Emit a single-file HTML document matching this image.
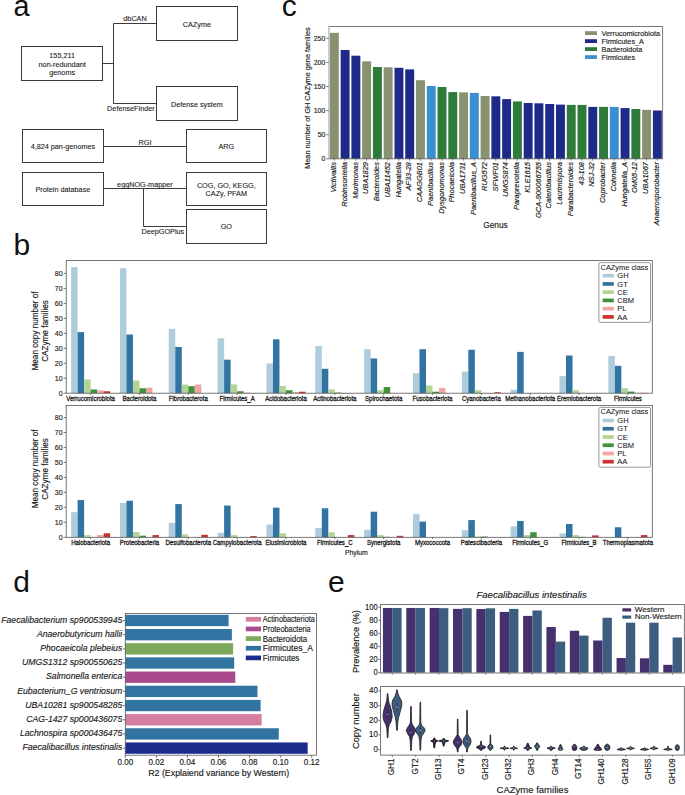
<!DOCTYPE html>
<html><head><meta charset="utf-8"><style>
html,body{margin:0;padding:0;background:#fff;}
svg{display:block;}
text{font-family:"Liberation Sans", sans-serif;stroke:#1a1a1a;stroke-width:0.15px;}
</style></head><body>
<svg width="685" height="795" viewBox="0 0 685 795" fill="#1a1a1a">
<rect x="0" y="0" width="685" height="795" fill="#fff"/>
<text x="13.40" y="15.80" font-size="28.8" style="stroke-width:0px" fill="#111">a</text>
<text x="13.50" y="254.70" font-size="30" style="stroke-width:0px" fill="#111">b</text>
<text x="281.70" y="16.30" font-size="30" style="stroke-width:0px" fill="#111">c</text>
<text x="13.30" y="592.10" font-size="30" style="stroke-width:0px" fill="#111">d</text>
<text x="328.00" y="592.20" font-size="30" style="stroke-width:0px" fill="#111">e</text>
<rect x="21.50" y="46.50" width="81.00" height="34.00" fill="white" stroke="#3a3a3a" stroke-width="1.0"/>
<rect x="156.50" y="6.50" width="81.00" height="34.00" fill="white" stroke="#3a3a3a" stroke-width="1.0"/>
<rect x="156.50" y="86.50" width="81.00" height="34.00" fill="white" stroke="#3a3a3a" stroke-width="1.0"/>
<rect x="22.50" y="129.50" width="81.00" height="33.00" fill="white" stroke="#3a3a3a" stroke-width="1.0"/>
<rect x="186.50" y="129.50" width="80.00" height="33.00" fill="white" stroke="#3a3a3a" stroke-width="1.0"/>
<rect x="22.50" y="172.50" width="81.00" height="33.00" fill="white" stroke="#3a3a3a" stroke-width="1.0"/>
<rect x="186.50" y="172.50" width="80.00" height="33.00" fill="white" stroke="#3a3a3a" stroke-width="1.0"/>
<rect x="186.50" y="209.50" width="80.00" height="34.00" fill="white" stroke="#3a3a3a" stroke-width="1.0"/>
<polyline points="102.50,63.50 113.50,63.50" fill="none" stroke="#3a3a3a" stroke-width="1.0"/>
<polyline points="156.50,23.50 113.50,23.50 113.50,103.50 156.50,103.50" fill="none" stroke="#3a3a3a" stroke-width="1.0"/>
<polyline points="103.50,146.50 186.50,146.50" fill="none" stroke="#3a3a3a" stroke-width="1.0"/>
<polyline points="103.50,188.50 186.50,188.50" fill="none" stroke="#3a3a3a" stroke-width="1.0"/>
<polyline points="143.50,188.50 143.50,226.50 186.50,226.50" fill="none" stroke="#3a3a3a" stroke-width="1.0"/>
<text x="62.15" y="58.00" font-size="7.25" style="stroke-width:0.1px" text-anchor="middle">155,211</text>
<text x="62.15" y="66.70" font-size="7.25" style="stroke-width:0.1px" text-anchor="middle">non-redundant</text>
<text x="62.15" y="75.30" font-size="7.25" style="stroke-width:0.1px" text-anchor="middle">genoms</text>
<text x="196.90" y="26.50" font-size="7.25" style="stroke-width:0.1px" text-anchor="middle">CAZyme</text>
<text x="196.90" y="107.00" font-size="7.25" style="stroke-width:0.1px" text-anchor="middle">Defense system</text>
<text x="62.90" y="149.30" font-size="7.25" style="stroke-width:0.1px" text-anchor="middle">4,824 pan-genomes</text>
<text x="226.30" y="149.30" font-size="7.25" style="stroke-width:0.1px" text-anchor="middle">ARG</text>
<text x="62.90" y="191.80" font-size="7.25" style="stroke-width:0.1px" text-anchor="middle">Protein database</text>
<text x="226.30" y="188.10" font-size="7.25" style="stroke-width:0.1px" text-anchor="middle">COG, GO, KEGG,</text>
<text x="226.30" y="196.40" font-size="7.25" style="stroke-width:0.1px" text-anchor="middle">CAZy, PFAM</text>
<text x="226.30" y="229.10" font-size="7.25" style="stroke-width:0.1px" text-anchor="middle">GO</text>
<text x="135.00" y="21.30" font-size="7.25" style="stroke-width:0.1px" text-anchor="middle">dbCAN</text>
<text x="130.90" y="111.00" font-size="7.25" style="stroke-width:0.1px" text-anchor="middle">DefenseFinder</text>
<text x="145.00" y="144.50" font-size="7.25" style="stroke-width:0.1px" text-anchor="middle">RGI</text>
<text x="144.90" y="186.60" font-size="7.25" style="stroke-width:0.1px" text-anchor="middle">eggNOG-mapper</text>
<text x="162.80" y="234.00" font-size="7.25" style="stroke-width:0.1px" text-anchor="middle">DeepGOPlus</text>
<rect x="329.87" y="32.80" width="8.94" height="126.00" fill="#889170"/>
<rect x="340.63" y="50.00" width="8.94" height="108.80" fill="#1e2a87"/>
<rect x="351.40" y="55.70" width="8.94" height="103.10" fill="#1e2a87"/>
<rect x="362.17" y="61.30" width="8.94" height="97.50" fill="#889170"/>
<rect x="372.94" y="67.00" width="8.94" height="91.80" fill="#2e7b3c"/>
<rect x="383.70" y="67.30" width="8.94" height="91.50" fill="#889170"/>
<rect x="394.47" y="67.80" width="8.94" height="91.00" fill="#1e2a87"/>
<rect x="405.24" y="69.40" width="8.94" height="89.40" fill="#1e2a87"/>
<rect x="416.01" y="80.20" width="8.94" height="78.60" fill="#889170"/>
<rect x="426.77" y="86.00" width="8.94" height="72.80" fill="#3a8fd0"/>
<rect x="437.54" y="87.00" width="8.94" height="71.80" fill="#2e7b3c"/>
<rect x="448.31" y="92.10" width="8.94" height="66.70" fill="#2e7b3c"/>
<rect x="459.08" y="92.40" width="8.94" height="66.40" fill="#889170"/>
<rect x="469.85" y="92.90" width="8.94" height="65.90" fill="#3a8fd0"/>
<rect x="480.61" y="96.00" width="8.94" height="62.80" fill="#889170"/>
<rect x="491.38" y="96.30" width="8.94" height="62.50" fill="#1e2a87"/>
<rect x="502.15" y="99.10" width="8.94" height="59.70" fill="#1e2a87"/>
<rect x="512.92" y="101.40" width="8.94" height="57.40" fill="#2e7b3c"/>
<rect x="523.68" y="103.00" width="8.94" height="55.80" fill="#1e2a87"/>
<rect x="534.45" y="103.30" width="8.94" height="55.50" fill="#1e2a87"/>
<rect x="545.22" y="104.00" width="8.94" height="54.80" fill="#1e2a87"/>
<rect x="555.99" y="104.60" width="8.94" height="54.20" fill="#1e2a87"/>
<rect x="566.76" y="104.90" width="8.94" height="53.90" fill="#2e7b3c"/>
<rect x="577.52" y="104.90" width="8.94" height="53.90" fill="#2e7b3c"/>
<rect x="588.29" y="106.90" width="8.94" height="51.90" fill="#1e2a87"/>
<rect x="599.06" y="106.90" width="8.94" height="51.90" fill="#2e7b3c"/>
<rect x="609.83" y="106.90" width="8.94" height="51.90" fill="#3a8fd0"/>
<rect x="620.59" y="108.10" width="8.94" height="50.70" fill="#1e2a87"/>
<rect x="631.36" y="109.00" width="8.94" height="49.80" fill="#2e7b3c"/>
<rect x="642.13" y="109.90" width="8.94" height="48.90" fill="#889170"/>
<rect x="652.90" y="110.50" width="8.94" height="48.30" fill="#1e2a87"/>
<polyline points="328.80,26.50 662.60,26.50 662.60,158.80 328.80,158.80" fill="none" stroke="#555555" stroke-width="0.8"/>
<line x1="329.00" y1="26.10" x2="329.00" y2="158.80" stroke="#b8b8b8" stroke-width="1.4"/>
<line x1="326.20" y1="158.80" x2="328.80" y2="158.80" stroke="#555555" stroke-width="0.8"/>
<text x="325.20" y="161.25" font-size="6.8" text-anchor="end">0</text>
<line x1="326.20" y1="134.70" x2="328.80" y2="134.70" stroke="#555555" stroke-width="0.8"/>
<text x="325.20" y="137.15" font-size="6.8" text-anchor="end">50</text>
<line x1="326.20" y1="110.60" x2="328.80" y2="110.60" stroke="#555555" stroke-width="0.8"/>
<text x="325.20" y="113.05" font-size="6.8" text-anchor="end">100</text>
<line x1="326.20" y1="86.50" x2="328.80" y2="86.50" stroke="#555555" stroke-width="0.8"/>
<text x="325.20" y="88.95" font-size="6.8" text-anchor="end">150</text>
<line x1="326.20" y1="62.40" x2="328.80" y2="62.40" stroke="#555555" stroke-width="0.8"/>
<text x="325.20" y="64.85" font-size="6.8" text-anchor="end">200</text>
<line x1="326.20" y1="38.30" x2="328.80" y2="38.30" stroke="#555555" stroke-width="0.8"/>
<text x="325.20" y="40.75" font-size="6.8" text-anchor="end">250</text>
<line x1="334.18" y1="158.80" x2="334.18" y2="160.60" stroke="#555555" stroke-width="0.8"/>
<text x="335.98" y="162.00" font-size="6.9" text-anchor="end" font-style="italic" transform="rotate(-90 335.98 162.00)" textLength="30.50" lengthAdjust="spacingAndGlyphs">Victivallis</text>
<line x1="344.95" y1="158.80" x2="344.95" y2="160.60" stroke="#555555" stroke-width="0.8"/>
<text x="346.75" y="162.00" font-size="6.9" text-anchor="end" font-style="italic" transform="rotate(-90 346.75 162.00)" textLength="44.73" lengthAdjust="spacingAndGlyphs">Robinsoniella</text>
<line x1="355.72" y1="158.80" x2="355.72" y2="160.60" stroke="#555555" stroke-width="0.8"/>
<text x="357.52" y="162.00" font-size="6.9" text-anchor="end" font-style="italic" transform="rotate(-90 357.52 162.00)" textLength="36.85" lengthAdjust="spacingAndGlyphs">Murimonas</text>
<line x1="366.49" y1="158.80" x2="366.49" y2="160.60" stroke="#555555" stroke-width="0.8"/>
<text x="368.29" y="162.00" font-size="6.9" text-anchor="end" font-style="italic" transform="rotate(-90 368.29 162.00)" textLength="31.89" lengthAdjust="spacingAndGlyphs">UBA1829</text>
<line x1="377.25" y1="158.80" x2="377.25" y2="160.60" stroke="#555555" stroke-width="0.8"/>
<text x="379.05" y="162.00" font-size="6.9" text-anchor="end" font-style="italic" transform="rotate(-90 379.05 162.00)" textLength="39.34" lengthAdjust="spacingAndGlyphs">Bacteroides</text>
<line x1="388.02" y1="158.80" x2="388.02" y2="160.60" stroke="#555555" stroke-width="0.8"/>
<text x="389.82" y="162.00" font-size="6.9" text-anchor="end" font-style="italic" transform="rotate(-90 389.82 162.00)" textLength="35.48" lengthAdjust="spacingAndGlyphs">UBA11452</text>
<line x1="398.79" y1="158.80" x2="398.79" y2="160.60" stroke="#555555" stroke-width="0.8"/>
<text x="400.59" y="162.00" font-size="6.9" text-anchor="end" font-style="italic" transform="rotate(-90 400.59 162.00)" textLength="35.62" lengthAdjust="spacingAndGlyphs">Hungatella</text>
<line x1="409.56" y1="158.80" x2="409.56" y2="160.60" stroke="#555555" stroke-width="0.8"/>
<text x="411.36" y="162.00" font-size="6.9" text-anchor="end" font-style="italic" transform="rotate(-90 411.36 162.00)" textLength="28.58" lengthAdjust="spacingAndGlyphs">AF33-28</text>
<line x1="420.33" y1="158.80" x2="420.33" y2="160.60" stroke="#555555" stroke-width="0.8"/>
<text x="422.13" y="162.00" font-size="6.9" text-anchor="end" font-style="italic" transform="rotate(-90 422.13 162.00)" textLength="40.16" lengthAdjust="spacingAndGlyphs">CAAGGB01</text>
<line x1="431.09" y1="158.80" x2="431.09" y2="160.60" stroke="#555555" stroke-width="0.8"/>
<text x="432.89" y="162.00" font-size="6.9" text-anchor="end" font-style="italic" transform="rotate(-90 432.89 162.00)" textLength="43.90" lengthAdjust="spacingAndGlyphs">Paenibacillus</text>
<line x1="441.86" y1="158.80" x2="441.86" y2="160.60" stroke="#555555" stroke-width="0.8"/>
<text x="443.66" y="162.00" font-size="6.9" text-anchor="end" font-style="italic" transform="rotate(-90 443.66 162.00)" textLength="51.77" lengthAdjust="spacingAndGlyphs">Dysgonomonas</text>
<line x1="452.63" y1="158.80" x2="452.63" y2="160.60" stroke="#555555" stroke-width="0.8"/>
<text x="454.43" y="162.00" font-size="6.9" text-anchor="end" font-style="italic" transform="rotate(-90 454.43 162.00)" textLength="40.59" lengthAdjust="spacingAndGlyphs">Phocaeicola</text>
<line x1="463.40" y1="158.80" x2="463.40" y2="160.60" stroke="#555555" stroke-width="0.8"/>
<text x="465.20" y="162.00" font-size="6.9" text-anchor="end" font-style="italic" transform="rotate(-90 465.20 162.00)" textLength="31.89" lengthAdjust="spacingAndGlyphs">UBA1731</text>
<line x1="474.16" y1="158.80" x2="474.16" y2="160.60" stroke="#555555" stroke-width="0.8"/>
<text x="475.96" y="162.00" font-size="6.9" text-anchor="end" font-style="italic" transform="rotate(-90 475.96 162.00)" textLength="53.01" lengthAdjust="spacingAndGlyphs">Paenibacillus_A</text>
<line x1="484.93" y1="158.80" x2="484.93" y2="160.60" stroke="#555555" stroke-width="0.8"/>
<text x="486.73" y="162.00" font-size="6.9" text-anchor="end" font-style="italic" transform="rotate(-90 486.73 162.00)" textLength="28.99" lengthAdjust="spacingAndGlyphs">RUG572</text>
<line x1="495.70" y1="158.80" x2="495.70" y2="160.60" stroke="#555555" stroke-width="0.8"/>
<text x="497.50" y="162.00" font-size="6.9" text-anchor="end" font-style="italic" transform="rotate(-90 497.50 162.00)" textLength="29.39" lengthAdjust="spacingAndGlyphs">SFWF01</text>
<line x1="506.47" y1="158.80" x2="506.47" y2="160.60" stroke="#555555" stroke-width="0.8"/>
<text x="508.27" y="162.00" font-size="6.9" text-anchor="end" font-style="italic" transform="rotate(-90 508.27 162.00)" textLength="34.78" lengthAdjust="spacingAndGlyphs">UMGS874</text>
<line x1="517.24" y1="158.80" x2="517.24" y2="160.60" stroke="#555555" stroke-width="0.8"/>
<text x="519.04" y="162.00" font-size="6.9" text-anchor="end" font-style="italic" transform="rotate(-90 519.04 162.00)" textLength="48.04" lengthAdjust="spacingAndGlyphs">Paraprevotella</text>
<line x1="528.00" y1="158.80" x2="528.00" y2="160.60" stroke="#555555" stroke-width="0.8"/>
<text x="529.80" y="162.00" font-size="6.9" text-anchor="end" font-style="italic" transform="rotate(-90 529.80 162.00)" textLength="30.66" lengthAdjust="spacingAndGlyphs">KLE1615</text>
<line x1="538.77" y1="158.80" x2="538.77" y2="160.60" stroke="#555555" stroke-width="0.8"/>
<text x="540.57" y="162.00" font-size="6.9" text-anchor="end" font-style="italic" transform="rotate(-90 540.57 162.00)" textLength="55.92" lengthAdjust="spacingAndGlyphs">GCA-900066755</text>
<line x1="549.54" y1="158.80" x2="549.54" y2="160.60" stroke="#555555" stroke-width="0.8"/>
<text x="551.34" y="162.00" font-size="6.9" text-anchor="end" font-style="italic" transform="rotate(-90 551.34 162.00)" textLength="46.38" lengthAdjust="spacingAndGlyphs">Catenibacillus</text>
<line x1="560.31" y1="158.80" x2="560.31" y2="160.60" stroke="#555555" stroke-width="0.8"/>
<text x="562.11" y="162.00" font-size="6.9" text-anchor="end" font-style="italic" transform="rotate(-90 562.11 162.00)" textLength="42.65" lengthAdjust="spacingAndGlyphs">Lacrimispora</text>
<line x1="571.07" y1="158.80" x2="571.07" y2="160.60" stroke="#555555" stroke-width="0.8"/>
<text x="572.87" y="162.00" font-size="6.9" text-anchor="end" font-style="italic" transform="rotate(-90 572.87 162.00)" textLength="54.25" lengthAdjust="spacingAndGlyphs">Parabacteroides</text>
<line x1="581.84" y1="158.80" x2="581.84" y2="160.60" stroke="#555555" stroke-width="0.8"/>
<text x="583.64" y="162.00" font-size="6.9" text-anchor="end" font-style="italic" transform="rotate(-90 583.64 162.00)" textLength="23.20" lengthAdjust="spacingAndGlyphs">43-108</text>
<line x1="592.61" y1="158.80" x2="592.61" y2="160.60" stroke="#555555" stroke-width="0.8"/>
<text x="594.41" y="162.00" font-size="6.9" text-anchor="end" font-style="italic" transform="rotate(-90 594.41 162.00)" textLength="24.84" lengthAdjust="spacingAndGlyphs">NSJ-32</text>
<line x1="603.38" y1="158.80" x2="603.38" y2="160.60" stroke="#555555" stroke-width="0.8"/>
<text x="605.18" y="162.00" font-size="6.9" text-anchor="end" font-style="italic" transform="rotate(-90 605.18 162.00)" textLength="41.00" lengthAdjust="spacingAndGlyphs">Coprobacter</text>
<line x1="614.15" y1="158.80" x2="614.15" y2="160.60" stroke="#555555" stroke-width="0.8"/>
<text x="615.95" y="162.00" font-size="6.9" text-anchor="end" font-style="italic" transform="rotate(-90 615.95 162.00)" textLength="29.41" lengthAdjust="spacingAndGlyphs">Cohnella</text>
<line x1="624.91" y1="158.80" x2="624.91" y2="160.60" stroke="#555555" stroke-width="0.8"/>
<text x="626.71" y="162.00" font-size="6.9" text-anchor="end" font-style="italic" transform="rotate(-90 626.71 162.00)" textLength="44.73" lengthAdjust="spacingAndGlyphs">Hungatella_A</text>
<line x1="635.68" y1="158.80" x2="635.68" y2="160.60" stroke="#555555" stroke-width="0.8"/>
<text x="637.48" y="162.00" font-size="6.9" text-anchor="end" font-style="italic" transform="rotate(-90 637.48 162.00)" textLength="31.06" lengthAdjust="spacingAndGlyphs">OM05-12</text>
<line x1="646.45" y1="158.80" x2="646.45" y2="160.60" stroke="#555555" stroke-width="0.8"/>
<text x="648.25" y="162.00" font-size="6.9" text-anchor="end" font-style="italic" transform="rotate(-90 648.25 162.00)" textLength="31.89" lengthAdjust="spacingAndGlyphs">UBA1067</text>
<line x1="657.22" y1="158.80" x2="657.22" y2="160.60" stroke="#555555" stroke-width="0.8"/>
<text x="659.02" y="162.00" font-size="6.9" text-anchor="end" font-style="italic" transform="rotate(-90 659.02 162.00)" textLength="63.37" lengthAdjust="spacingAndGlyphs">Anaerosporobacter</text>
<text x="310.30" y="98.00" font-size="7.3" text-anchor="middle" transform="rotate(-90 310.30 98.00)">Mean number of GH CAZyme gene families</text>
<text x="483.30" y="227.50" font-size="8.6" textLength="24.45" lengthAdjust="spacingAndGlyphs">Genus</text>
<rect x="585.00" y="31.20" width="12.00" height="3.80" fill="#889170"/>
<text x="601.60" y="35.80" font-size="7.6" textLength="58.43" lengthAdjust="spacingAndGlyphs">Verrucomicrobiota</text>
<rect x="585.00" y="39.20" width="12.00" height="3.80" fill="#1e2a87"/>
<text x="601.60" y="43.80" font-size="7.6" textLength="42.30" lengthAdjust="spacingAndGlyphs">Firmicutes_A</text>
<rect x="585.00" y="47.20" width="12.00" height="3.80" fill="#2e7b3c"/>
<text x="601.60" y="51.80" font-size="7.6" textLength="40.71" lengthAdjust="spacingAndGlyphs">Bacteroidota</text>
<rect x="585.00" y="55.20" width="12.00" height="3.80" fill="#3a8fd0"/>
<text x="601.60" y="59.80" font-size="7.6" textLength="33.43" lengthAdjust="spacingAndGlyphs">Firmicutes</text>
<rect x="71.08" y="267.15" width="6.51" height="126.05" fill="#aeccdb"/>
<rect x="77.60" y="332.12" width="6.51" height="61.08" fill="#3274a1"/>
<rect x="84.11" y="379.43" width="6.51" height="13.77" fill="#b3d495"/>
<rect x="90.62" y="389.46" width="6.51" height="3.74" fill="#40923a"/>
<rect x="97.13" y="390.21" width="6.51" height="2.99" fill="#efa6a5"/>
<rect x="103.65" y="391.25" width="6.51" height="1.95" fill="#ca3335"/>
<rect x="119.93" y="268.20" width="6.51" height="125.00" fill="#aeccdb"/>
<rect x="126.44" y="334.52" width="6.51" height="58.68" fill="#3274a1"/>
<rect x="132.95" y="380.48" width="6.51" height="12.72" fill="#b3d495"/>
<rect x="139.46" y="388.26" width="6.51" height="4.94" fill="#40923a"/>
<rect x="145.97" y="387.66" width="6.51" height="5.54" fill="#efa6a5"/>
<rect x="168.77" y="328.83" width="6.51" height="64.37" fill="#aeccdb"/>
<rect x="175.28" y="346.94" width="6.51" height="46.26" fill="#3274a1"/>
<rect x="181.79" y="384.52" width="6.51" height="8.68" fill="#b3d495"/>
<rect x="188.30" y="386.16" width="6.51" height="7.04" fill="#40923a"/>
<rect x="194.82" y="384.52" width="6.51" height="8.68" fill="#efa6a5"/>
<rect x="217.61" y="338.26" width="6.51" height="54.94" fill="#aeccdb"/>
<rect x="224.12" y="359.67" width="6.51" height="33.53" fill="#3274a1"/>
<rect x="230.63" y="384.37" width="6.51" height="8.83" fill="#b3d495"/>
<rect x="237.15" y="391.25" width="6.51" height="1.95" fill="#40923a"/>
<rect x="243.66" y="392.60" width="6.51" height="0.60" fill="#efa6a5"/>
<rect x="250.17" y="393.05" width="6.51" height="0.15" fill="#ca3335"/>
<rect x="266.45" y="363.41" width="6.51" height="29.79" fill="#aeccdb"/>
<rect x="272.96" y="339.31" width="6.51" height="53.89" fill="#3274a1"/>
<rect x="279.48" y="386.01" width="6.51" height="7.19" fill="#b3d495"/>
<rect x="285.99" y="390.21" width="6.51" height="2.99" fill="#40923a"/>
<rect x="292.50" y="392.15" width="6.51" height="1.05" fill="#efa6a5"/>
<rect x="299.01" y="391.70" width="6.51" height="1.50" fill="#ca3335"/>
<rect x="315.29" y="346.04" width="6.51" height="47.16" fill="#aeccdb"/>
<rect x="321.80" y="368.80" width="6.51" height="24.40" fill="#3274a1"/>
<rect x="328.32" y="389.31" width="6.51" height="3.89" fill="#b3d495"/>
<rect x="334.83" y="392.60" width="6.51" height="0.60" fill="#40923a"/>
<rect x="341.34" y="393.05" width="6.51" height="0.15" fill="#efa6a5"/>
<rect x="364.13" y="349.19" width="6.51" height="44.01" fill="#aeccdb"/>
<rect x="370.65" y="358.47" width="6.51" height="34.73" fill="#3274a1"/>
<rect x="377.16" y="390.21" width="6.51" height="2.99" fill="#b3d495"/>
<rect x="383.67" y="387.06" width="6.51" height="6.14" fill="#40923a"/>
<rect x="412.98" y="373.14" width="6.51" height="20.06" fill="#aeccdb"/>
<rect x="419.49" y="349.19" width="6.51" height="44.01" fill="#3274a1"/>
<rect x="426.00" y="385.42" width="6.51" height="7.78" fill="#b3d495"/>
<rect x="432.51" y="391.70" width="6.51" height="1.50" fill="#40923a"/>
<rect x="439.02" y="387.96" width="6.51" height="5.24" fill="#efa6a5"/>
<rect x="461.82" y="371.64" width="6.51" height="21.56" fill="#aeccdb"/>
<rect x="468.33" y="349.79" width="6.51" height="43.41" fill="#3274a1"/>
<rect x="474.84" y="390.21" width="6.51" height="2.99" fill="#b3d495"/>
<rect x="494.38" y="392.30" width="6.51" height="0.90" fill="#ca3335"/>
<rect x="510.66" y="389.76" width="6.51" height="3.44" fill="#aeccdb"/>
<rect x="517.17" y="351.88" width="6.51" height="41.32" fill="#3274a1"/>
<rect x="559.50" y="376.13" width="6.51" height="17.07" fill="#aeccdb"/>
<rect x="566.01" y="355.48" width="6.51" height="37.72" fill="#3274a1"/>
<rect x="572.53" y="390.21" width="6.51" height="2.99" fill="#b3d495"/>
<rect x="608.34" y="355.92" width="6.51" height="37.28" fill="#aeccdb"/>
<rect x="614.85" y="365.80" width="6.51" height="27.40" fill="#3274a1"/>
<rect x="621.37" y="388.26" width="6.51" height="4.94" fill="#b3d495"/>
<rect x="627.88" y="391.55" width="6.51" height="1.65" fill="#40923a"/>
<rect x="634.39" y="392.90" width="6.51" height="0.30" fill="#efa6a5"/>
<rect x="640.90" y="392.90" width="6.51" height="0.30" fill="#ca3335"/>
<rect x="66.20" y="260.60" width="586.10" height="132.60" fill="none" stroke="#555555" stroke-width="0.8"/>
<line x1="63.80" y1="393.20" x2="66.20" y2="393.20" stroke="#555555" stroke-width="0.8"/>
<text x="62.60" y="395.50" font-size="7.9" text-anchor="end" textLength="3.92" lengthAdjust="spacingAndGlyphs">0</text>
<line x1="63.80" y1="378.23" x2="66.20" y2="378.23" stroke="#555555" stroke-width="0.8"/>
<text x="62.60" y="380.53" font-size="7.9" text-anchor="end" textLength="7.84" lengthAdjust="spacingAndGlyphs">10</text>
<line x1="63.80" y1="363.26" x2="66.20" y2="363.26" stroke="#555555" stroke-width="0.8"/>
<text x="62.60" y="365.56" font-size="7.9" text-anchor="end" textLength="7.84" lengthAdjust="spacingAndGlyphs">20</text>
<line x1="63.80" y1="348.29" x2="66.20" y2="348.29" stroke="#555555" stroke-width="0.8"/>
<text x="62.60" y="350.59" font-size="7.9" text-anchor="end" textLength="7.84" lengthAdjust="spacingAndGlyphs">30</text>
<line x1="63.80" y1="333.32" x2="66.20" y2="333.32" stroke="#555555" stroke-width="0.8"/>
<text x="62.60" y="335.62" font-size="7.9" text-anchor="end" textLength="7.84" lengthAdjust="spacingAndGlyphs">40</text>
<line x1="63.80" y1="318.35" x2="66.20" y2="318.35" stroke="#555555" stroke-width="0.8"/>
<text x="62.60" y="320.65" font-size="7.9" text-anchor="end" textLength="7.84" lengthAdjust="spacingAndGlyphs">50</text>
<line x1="63.80" y1="303.38" x2="66.20" y2="303.38" stroke="#555555" stroke-width="0.8"/>
<text x="62.60" y="305.68" font-size="7.9" text-anchor="end" textLength="7.84" lengthAdjust="spacingAndGlyphs">60</text>
<line x1="63.80" y1="288.41" x2="66.20" y2="288.41" stroke="#555555" stroke-width="0.8"/>
<text x="62.60" y="290.71" font-size="7.9" text-anchor="end" textLength="7.84" lengthAdjust="spacingAndGlyphs">70</text>
<line x1="63.80" y1="273.44" x2="66.20" y2="273.44" stroke="#555555" stroke-width="0.8"/>
<text x="62.60" y="275.74" font-size="7.9" text-anchor="end" textLength="7.84" lengthAdjust="spacingAndGlyphs">80</text>
<line x1="90.62" y1="393.20" x2="90.62" y2="395.00" stroke="#555555" stroke-width="0.8"/>
<text x="90.62" y="400.80" font-size="7.0" style="stroke-width:0.3px" text-anchor="middle" textLength="48.68" lengthAdjust="spacingAndGlyphs">Verrucomicrobiota</text>
<line x1="139.46" y1="393.20" x2="139.46" y2="395.00" stroke="#555555" stroke-width="0.8"/>
<text x="139.46" y="400.80" font-size="7.0" style="stroke-width:0.3px" text-anchor="middle" textLength="33.91" lengthAdjust="spacingAndGlyphs">Bacteroidota</text>
<line x1="188.30" y1="393.20" x2="188.30" y2="395.00" stroke="#555555" stroke-width="0.8"/>
<text x="188.30" y="400.80" font-size="7.0" style="stroke-width:0.3px" text-anchor="middle" textLength="38.95" lengthAdjust="spacingAndGlyphs">Fibrobacterota</text>
<line x1="237.15" y1="393.20" x2="237.15" y2="395.00" stroke="#555555" stroke-width="0.8"/>
<text x="237.15" y="400.80" font-size="7.0" style="stroke-width:0.3px" text-anchor="middle" textLength="35.24" lengthAdjust="spacingAndGlyphs">Firmicutes_A</text>
<line x1="285.99" y1="393.20" x2="285.99" y2="395.00" stroke="#555555" stroke-width="0.8"/>
<text x="285.99" y="400.80" font-size="7.0" style="stroke-width:0.3px" text-anchor="middle" textLength="41.64" lengthAdjust="spacingAndGlyphs">Acidobacteriota</text>
<line x1="334.83" y1="393.20" x2="334.83" y2="395.00" stroke="#555555" stroke-width="0.8"/>
<text x="334.83" y="400.80" font-size="7.0" style="stroke-width:0.3px" text-anchor="middle" textLength="43.31" lengthAdjust="spacingAndGlyphs">Actinobacteriota</text>
<line x1="383.67" y1="393.20" x2="383.67" y2="395.00" stroke="#555555" stroke-width="0.8"/>
<text x="383.67" y="400.80" font-size="7.0" style="stroke-width:0.3px" text-anchor="middle" textLength="37.27" lengthAdjust="spacingAndGlyphs">Spirochaetota</text>
<line x1="432.51" y1="393.20" x2="432.51" y2="395.00" stroke="#555555" stroke-width="0.8"/>
<text x="432.51" y="400.80" font-size="7.0" style="stroke-width:0.3px" text-anchor="middle" textLength="39.95" lengthAdjust="spacingAndGlyphs">Fusobacteriota</text>
<line x1="481.35" y1="393.20" x2="481.35" y2="395.00" stroke="#555555" stroke-width="0.8"/>
<text x="481.35" y="400.80" font-size="7.0" style="stroke-width:0.3px" text-anchor="middle" textLength="38.95" lengthAdjust="spacingAndGlyphs">Cyanobacteria</text>
<line x1="530.20" y1="393.20" x2="530.20" y2="395.00" stroke="#555555" stroke-width="0.8"/>
<text x="530.20" y="400.80" font-size="7.0" style="stroke-width:0.3px" text-anchor="middle" textLength="50.03" lengthAdjust="spacingAndGlyphs">Methanobacteriota</text>
<line x1="579.04" y1="393.20" x2="579.04" y2="395.00" stroke="#555555" stroke-width="0.8"/>
<text x="579.04" y="400.80" font-size="7.0" style="stroke-width:0.3px" text-anchor="middle" textLength="44.32" lengthAdjust="spacingAndGlyphs">Eremiobacterota</text>
<line x1="627.88" y1="393.20" x2="627.88" y2="395.00" stroke="#555555" stroke-width="0.8"/>
<text x="627.88" y="400.80" font-size="7.0" style="stroke-width:0.3px" text-anchor="middle" textLength="27.85" lengthAdjust="spacingAndGlyphs">Firmicutes</text>
<rect x="598.9" y="262.60" width="51.60" height="59.80" rx="1.5" fill="white" stroke="#808080" stroke-width="0.8"/>
<text x="624.40" y="269.60" font-size="7.9" style="stroke-width:0.08px" text-anchor="middle" textLength="47.70" lengthAdjust="spacingAndGlyphs">CAZyme class</text>
<rect x="602.60" y="273.85" width="11.20" height="3.70" fill="#aeccdb"/>
<text x="617.30" y="278.45" font-size="7.9" style="stroke-width:0.08px" textLength="11.25" lengthAdjust="spacingAndGlyphs">GH</text>
<rect x="602.60" y="282.09" width="11.20" height="3.70" fill="#3274a1"/>
<text x="617.30" y="286.69" font-size="7.9" style="stroke-width:0.08px" textLength="10.42" lengthAdjust="spacingAndGlyphs">GT</text>
<rect x="602.60" y="290.33" width="11.20" height="3.70" fill="#b3d495"/>
<text x="617.30" y="294.93" font-size="7.9" style="stroke-width:0.08px" textLength="10.42" lengthAdjust="spacingAndGlyphs">CE</text>
<rect x="602.60" y="298.57" width="11.20" height="3.70" fill="#40923a"/>
<text x="617.30" y="303.17" font-size="7.9" style="stroke-width:0.08px" textLength="16.67" lengthAdjust="spacingAndGlyphs">CBM</text>
<rect x="602.60" y="306.81" width="11.20" height="3.70" fill="#efa6a5"/>
<text x="617.30" y="311.41" font-size="7.9" style="stroke-width:0.08px" textLength="9.17" lengthAdjust="spacingAndGlyphs">PL</text>
<rect x="602.60" y="315.05" width="11.20" height="3.70" fill="#ca3335"/>
<text x="617.30" y="319.65" font-size="7.9" style="stroke-width:0.08px" textLength="10.01" lengthAdjust="spacingAndGlyphs">AA</text>
<text x="38.10" y="331.00" font-size="8.5" text-anchor="middle" transform="rotate(-90 38.10 331.00)" textLength="78.92" lengthAdjust="spacingAndGlyphs">Mean copy number of</text>
<text x="47.60" y="331.00" font-size="8.5" text-anchor="middle" transform="rotate(-90 47.60 331.00)" textLength="61.66" lengthAdjust="spacingAndGlyphs">CAZyme families</text>
<rect x="71.08" y="512.15" width="6.51" height="25.15" fill="#aeccdb"/>
<rect x="77.60" y="500.02" width="6.51" height="37.28" fill="#3274a1"/>
<rect x="84.11" y="535.05" width="6.51" height="2.25" fill="#b3d495"/>
<rect x="97.13" y="535.05" width="6.51" height="2.25" fill="#efa6a5"/>
<rect x="103.65" y="533.26" width="6.51" height="4.04" fill="#ca3335"/>
<rect x="119.93" y="503.02" width="6.51" height="34.28" fill="#aeccdb"/>
<rect x="126.44" y="500.77" width="6.51" height="36.53" fill="#3274a1"/>
<rect x="132.95" y="532.06" width="6.51" height="5.24" fill="#b3d495"/>
<rect x="139.46" y="535.65" width="6.51" height="1.65" fill="#40923a"/>
<rect x="152.49" y="535.05" width="6.51" height="2.25" fill="#ca3335"/>
<rect x="168.77" y="522.93" width="6.51" height="14.37" fill="#aeccdb"/>
<rect x="175.28" y="504.07" width="6.51" height="33.23" fill="#3274a1"/>
<rect x="181.79" y="534.31" width="6.51" height="2.99" fill="#b3d495"/>
<rect x="201.33" y="534.76" width="6.51" height="2.54" fill="#ca3335"/>
<rect x="217.61" y="532.81" width="6.51" height="4.49" fill="#aeccdb"/>
<rect x="224.12" y="505.56" width="6.51" height="31.74" fill="#3274a1"/>
<rect x="230.63" y="535.05" width="6.51" height="2.25" fill="#b3d495"/>
<rect x="250.17" y="536.10" width="6.51" height="1.20" fill="#ca3335"/>
<rect x="266.45" y="524.58" width="6.51" height="12.72" fill="#aeccdb"/>
<rect x="272.96" y="507.66" width="6.51" height="29.64" fill="#3274a1"/>
<rect x="279.48" y="533.26" width="6.51" height="4.04" fill="#b3d495"/>
<rect x="315.29" y="528.02" width="6.51" height="9.28" fill="#aeccdb"/>
<rect x="321.80" y="508.26" width="6.51" height="29.04" fill="#3274a1"/>
<rect x="328.32" y="532.36" width="6.51" height="4.94" fill="#b3d495"/>
<rect x="347.85" y="535.05" width="6.51" height="2.25" fill="#ca3335"/>
<rect x="364.13" y="529.81" width="6.51" height="7.49" fill="#aeccdb"/>
<rect x="370.65" y="511.70" width="6.51" height="25.60" fill="#3274a1"/>
<rect x="377.16" y="535.05" width="6.51" height="2.25" fill="#b3d495"/>
<rect x="383.67" y="536.85" width="6.51" height="0.45" fill="#40923a"/>
<rect x="396.70" y="535.80" width="6.51" height="1.50" fill="#ca3335"/>
<rect x="412.98" y="513.95" width="6.51" height="23.35" fill="#aeccdb"/>
<rect x="419.49" y="521.58" width="6.51" height="15.72" fill="#3274a1"/>
<rect x="461.82" y="530.26" width="6.51" height="7.04" fill="#aeccdb"/>
<rect x="468.33" y="520.08" width="6.51" height="17.22" fill="#3274a1"/>
<rect x="474.84" y="536.55" width="6.51" height="0.75" fill="#b3d495"/>
<rect x="481.35" y="536.55" width="6.51" height="0.75" fill="#40923a"/>
<rect x="510.66" y="526.37" width="6.51" height="10.93" fill="#aeccdb"/>
<rect x="517.17" y="520.98" width="6.51" height="16.32" fill="#3274a1"/>
<rect x="523.68" y="535.05" width="6.51" height="2.25" fill="#b3d495"/>
<rect x="530.20" y="532.21" width="6.51" height="5.09" fill="#40923a"/>
<rect x="559.50" y="533.41" width="6.51" height="3.89" fill="#aeccdb"/>
<rect x="566.01" y="523.98" width="6.51" height="13.32" fill="#3274a1"/>
<rect x="572.53" y="535.05" width="6.51" height="2.25" fill="#b3d495"/>
<rect x="579.04" y="536.85" width="6.51" height="0.45" fill="#40923a"/>
<rect x="592.06" y="535.35" width="6.51" height="1.95" fill="#ca3335"/>
<rect x="614.85" y="527.27" width="6.51" height="10.03" fill="#3274a1"/>
<rect x="640.90" y="535.05" width="6.51" height="2.25" fill="#ca3335"/>
<rect x="66.20" y="405.50" width="586.10" height="131.80" fill="none" stroke="#555555" stroke-width="0.8"/>
<line x1="63.80" y1="537.30" x2="66.20" y2="537.30" stroke="#555555" stroke-width="0.8"/>
<text x="62.60" y="539.60" font-size="7.9" text-anchor="end" textLength="3.92" lengthAdjust="spacingAndGlyphs">0</text>
<line x1="63.80" y1="522.33" x2="66.20" y2="522.33" stroke="#555555" stroke-width="0.8"/>
<text x="62.60" y="524.63" font-size="7.9" text-anchor="end" textLength="7.84" lengthAdjust="spacingAndGlyphs">10</text>
<line x1="63.80" y1="507.36" x2="66.20" y2="507.36" stroke="#555555" stroke-width="0.8"/>
<text x="62.60" y="509.66" font-size="7.9" text-anchor="end" textLength="7.84" lengthAdjust="spacingAndGlyphs">20</text>
<line x1="63.80" y1="492.39" x2="66.20" y2="492.39" stroke="#555555" stroke-width="0.8"/>
<text x="62.60" y="494.69" font-size="7.9" text-anchor="end" textLength="7.84" lengthAdjust="spacingAndGlyphs">30</text>
<line x1="63.80" y1="477.42" x2="66.20" y2="477.42" stroke="#555555" stroke-width="0.8"/>
<text x="62.60" y="479.72" font-size="7.9" text-anchor="end" textLength="7.84" lengthAdjust="spacingAndGlyphs">40</text>
<line x1="63.80" y1="462.45" x2="66.20" y2="462.45" stroke="#555555" stroke-width="0.8"/>
<text x="62.60" y="464.75" font-size="7.9" text-anchor="end" textLength="7.84" lengthAdjust="spacingAndGlyphs">50</text>
<line x1="63.80" y1="447.48" x2="66.20" y2="447.48" stroke="#555555" stroke-width="0.8"/>
<text x="62.60" y="449.78" font-size="7.9" text-anchor="end" textLength="7.84" lengthAdjust="spacingAndGlyphs">60</text>
<line x1="63.80" y1="432.51" x2="66.20" y2="432.51" stroke="#555555" stroke-width="0.8"/>
<text x="62.60" y="434.81" font-size="7.9" text-anchor="end" textLength="7.84" lengthAdjust="spacingAndGlyphs">70</text>
<line x1="63.80" y1="417.54" x2="66.20" y2="417.54" stroke="#555555" stroke-width="0.8"/>
<text x="62.60" y="419.84" font-size="7.9" text-anchor="end" textLength="7.84" lengthAdjust="spacingAndGlyphs">80</text>
<line x1="90.62" y1="537.30" x2="90.62" y2="539.10" stroke="#555555" stroke-width="0.8"/>
<text x="90.62" y="544.90" font-size="7.0" style="stroke-width:0.3px" text-anchor="middle" textLength="38.95" lengthAdjust="spacingAndGlyphs">Halobacteriota</text>
<line x1="139.46" y1="537.30" x2="139.46" y2="539.10" stroke="#555555" stroke-width="0.8"/>
<text x="139.46" y="544.90" font-size="7.0" style="stroke-width:0.3px" text-anchor="middle" textLength="39.29" lengthAdjust="spacingAndGlyphs">Proteobacteria</text>
<line x1="188.30" y1="537.30" x2="188.30" y2="539.10" stroke="#555555" stroke-width="0.8"/>
<text x="188.30" y="544.90" font-size="7.0" style="stroke-width:0.3px" text-anchor="middle" textLength="45.66" lengthAdjust="spacingAndGlyphs">Desulfobacterota</text>
<line x1="237.15" y1="537.30" x2="237.15" y2="539.10" stroke="#555555" stroke-width="0.8"/>
<text x="237.15" y="544.90" font-size="7.0" style="stroke-width:0.3px" text-anchor="middle" textLength="49.02" lengthAdjust="spacingAndGlyphs">Campylobacterota</text>
<line x1="285.99" y1="537.30" x2="285.99" y2="539.10" stroke="#555555" stroke-width="0.8"/>
<text x="285.99" y="544.90" font-size="7.0" style="stroke-width:0.3px" text-anchor="middle" textLength="40.95" lengthAdjust="spacingAndGlyphs">Elusimicrobiota</text>
<line x1="334.83" y1="537.30" x2="334.83" y2="539.10" stroke="#555555" stroke-width="0.8"/>
<text x="334.83" y="544.90" font-size="7.0" style="stroke-width:0.3px" text-anchor="middle" textLength="35.57" lengthAdjust="spacingAndGlyphs">Firmicutes_C</text>
<line x1="383.67" y1="537.30" x2="383.67" y2="539.10" stroke="#555555" stroke-width="0.8"/>
<text x="383.67" y="544.90" font-size="7.0" style="stroke-width:0.3px" text-anchor="middle" textLength="33.57" lengthAdjust="spacingAndGlyphs">Synergistota</text>
<line x1="432.51" y1="537.30" x2="432.51" y2="539.10" stroke="#555555" stroke-width="0.8"/>
<text x="432.51" y="544.90" font-size="7.0" style="stroke-width:0.3px" text-anchor="middle" textLength="35.25" lengthAdjust="spacingAndGlyphs">Myxococcota</text>
<line x1="481.35" y1="537.30" x2="481.35" y2="539.10" stroke="#555555" stroke-width="0.8"/>
<text x="481.35" y="544.90" font-size="7.0" style="stroke-width:0.3px" text-anchor="middle" textLength="41.30" lengthAdjust="spacingAndGlyphs">Patescibacteria</text>
<line x1="530.20" y1="537.30" x2="530.20" y2="539.10" stroke="#555555" stroke-width="0.8"/>
<text x="530.20" y="544.90" font-size="7.0" style="stroke-width:0.3px" text-anchor="middle" textLength="35.91" lengthAdjust="spacingAndGlyphs">Firmicutes_G</text>
<line x1="579.04" y1="537.30" x2="579.04" y2="539.10" stroke="#555555" stroke-width="0.8"/>
<text x="579.04" y="544.90" font-size="7.0" style="stroke-width:0.3px" text-anchor="middle" textLength="35.24" lengthAdjust="spacingAndGlyphs">Firmicutes_B</text>
<line x1="627.88" y1="537.30" x2="627.88" y2="539.10" stroke="#555555" stroke-width="0.8"/>
<text x="627.88" y="544.90" font-size="7.0" style="stroke-width:0.3px" text-anchor="middle" textLength="50.36" lengthAdjust="spacingAndGlyphs">Thermoplasmatota</text>
<rect x="598.9" y="407.40" width="51.60" height="59.80" rx="1.5" fill="white" stroke="#808080" stroke-width="0.8"/>
<text x="624.40" y="414.40" font-size="7.9" style="stroke-width:0.08px" text-anchor="middle" textLength="47.70" lengthAdjust="spacingAndGlyphs">CAZyme class</text>
<rect x="602.60" y="418.65" width="11.20" height="3.70" fill="#aeccdb"/>
<text x="617.30" y="423.25" font-size="7.9" style="stroke-width:0.08px" textLength="11.25" lengthAdjust="spacingAndGlyphs">GH</text>
<rect x="602.60" y="426.89" width="11.20" height="3.70" fill="#3274a1"/>
<text x="617.30" y="431.49" font-size="7.9" style="stroke-width:0.08px" textLength="10.42" lengthAdjust="spacingAndGlyphs">GT</text>
<rect x="602.60" y="435.13" width="11.20" height="3.70" fill="#b3d495"/>
<text x="617.30" y="439.73" font-size="7.9" style="stroke-width:0.08px" textLength="10.42" lengthAdjust="spacingAndGlyphs">CE</text>
<rect x="602.60" y="443.37" width="11.20" height="3.70" fill="#40923a"/>
<text x="617.30" y="447.97" font-size="7.9" style="stroke-width:0.08px" textLength="16.67" lengthAdjust="spacingAndGlyphs">CBM</text>
<rect x="602.60" y="451.61" width="11.20" height="3.70" fill="#efa6a5"/>
<text x="617.30" y="456.21" font-size="7.9" style="stroke-width:0.08px" textLength="9.17" lengthAdjust="spacingAndGlyphs">PL</text>
<rect x="602.60" y="459.85" width="11.20" height="3.70" fill="#ca3335"/>
<text x="617.30" y="464.45" font-size="7.9" style="stroke-width:0.08px" textLength="10.01" lengthAdjust="spacingAndGlyphs">AA</text>
<text x="38.10" y="468.90" font-size="8.5" text-anchor="middle" transform="rotate(-90 38.10 468.90)" textLength="78.92" lengthAdjust="spacingAndGlyphs">Mean copy number of</text>
<text x="47.60" y="468.90" font-size="8.5" text-anchor="middle" transform="rotate(-90 47.60 468.90)" textLength="61.66" lengthAdjust="spacingAndGlyphs">CAZyme families</text>
<text x="356.40" y="554.90" font-size="7.0" text-anchor="middle" textLength="22.84" lengthAdjust="spacingAndGlyphs">Phylum</text>
<rect x="125.30" y="614.82" width="103.30" height="11.34" fill="#3274a1"/>
<rect x="125.30" y="629.00" width="106.56" height="11.34" fill="#3274a1"/>
<rect x="125.30" y="643.18" width="107.80" height="11.34" fill="#7ea85b"/>
<rect x="125.30" y="657.36" width="108.89" height="11.34" fill="#3274a1"/>
<rect x="125.30" y="671.54" width="109.98" height="11.34" fill="#a94a8e"/>
<rect x="125.30" y="685.72" width="132.19" height="11.34" fill="#3274a1"/>
<rect x="125.30" y="699.90" width="135.30" height="11.34" fill="#3274a1"/>
<rect x="125.30" y="714.08" width="136.38" height="11.34" fill="#d67ea2"/>
<rect x="125.30" y="728.26" width="153.47" height="11.34" fill="#3274a1"/>
<rect x="125.30" y="742.44" width="182.36" height="11.34" fill="#1c2c8c"/>
<rect x="125.30" y="613.40" width="191.10" height="141.80" fill="none" stroke="#555555" stroke-width="0.8"/>
<line x1="123.00" y1="620.49" x2="125.30" y2="620.49" stroke="#555555" stroke-width="0.8"/>
<text x="122.30" y="622.69" font-size="9.3" text-anchor="end" font-style="italic" textLength="121.12" lengthAdjust="spacingAndGlyphs">Faecalibacterium sp900539945</text>
<line x1="123.00" y1="634.67" x2="125.30" y2="634.67" stroke="#555555" stroke-width="0.8"/>
<text x="122.30" y="636.87" font-size="9.3" text-anchor="end" font-style="italic" textLength="85.40" lengthAdjust="spacingAndGlyphs">Anaerobutyricum hallii</text>
<line x1="123.00" y1="648.85" x2="125.30" y2="648.85" stroke="#555555" stroke-width="0.8"/>
<text x="122.30" y="651.05" font-size="9.3" text-anchor="end" font-style="italic" textLength="82.04" lengthAdjust="spacingAndGlyphs">Phocaeicola plebeius</text>
<line x1="123.00" y1="663.03" x2="125.30" y2="663.03" stroke="#555555" stroke-width="0.8"/>
<text x="122.30" y="665.23" font-size="9.3" text-anchor="end" font-style="italic" textLength="100.38" lengthAdjust="spacingAndGlyphs">UMGS1312 sp900550625</text>
<line x1="123.00" y1="677.21" x2="125.30" y2="677.21" stroke="#555555" stroke-width="0.8"/>
<text x="122.30" y="679.41" font-size="9.3" text-anchor="end" font-style="italic" textLength="76.24" lengthAdjust="spacingAndGlyphs">Salmonella enterica</text>
<line x1="123.00" y1="691.39" x2="125.30" y2="691.39" stroke="#555555" stroke-width="0.8"/>
<text x="122.30" y="693.59" font-size="9.3" text-anchor="end" font-style="italic" textLength="105.17" lengthAdjust="spacingAndGlyphs">Eubacterium_G ventriosum</text>
<line x1="123.00" y1="705.57" x2="125.30" y2="705.57" stroke="#555555" stroke-width="0.8"/>
<text x="122.30" y="707.77" font-size="9.3" text-anchor="end" font-style="italic" textLength="97.01" lengthAdjust="spacingAndGlyphs">UBA10281 sp900548285</text>
<line x1="123.00" y1="719.75" x2="125.30" y2="719.75" stroke="#555555" stroke-width="0.8"/>
<text x="122.30" y="721.95" font-size="9.3" text-anchor="end" font-style="italic" textLength="96.04" lengthAdjust="spacingAndGlyphs">CAG-1427 sp000436075</text>
<line x1="123.00" y1="733.93" x2="125.30" y2="733.93" stroke="#555555" stroke-width="0.8"/>
<text x="122.30" y="736.13" font-size="9.3" text-anchor="end" font-style="italic" textLength="102.32" lengthAdjust="spacingAndGlyphs">Lachnospira sp000436475</text>
<line x1="123.00" y1="748.11" x2="125.30" y2="748.11" stroke="#555555" stroke-width="0.8"/>
<text x="122.30" y="750.31" font-size="9.3" text-anchor="end" font-style="italic" textLength="99.87" lengthAdjust="spacingAndGlyphs">Faecalibacillus intestinalis</text>
<line x1="125.30" y1="755.20" x2="125.30" y2="757.80" stroke="#555555" stroke-width="0.8"/>
<text x="125.30" y="764.60" font-size="8.7" text-anchor="middle" textLength="15.77" lengthAdjust="spacingAndGlyphs">0.00</text>
<line x1="156.37" y1="755.20" x2="156.37" y2="757.80" stroke="#555555" stroke-width="0.8"/>
<text x="156.37" y="764.60" font-size="8.7" text-anchor="middle" textLength="15.77" lengthAdjust="spacingAndGlyphs">0.02</text>
<line x1="187.43" y1="755.20" x2="187.43" y2="757.80" stroke="#555555" stroke-width="0.8"/>
<text x="187.43" y="764.60" font-size="8.7" text-anchor="middle" textLength="15.77" lengthAdjust="spacingAndGlyphs">0.04</text>
<line x1="218.50" y1="755.20" x2="218.50" y2="757.80" stroke="#555555" stroke-width="0.8"/>
<text x="218.50" y="764.60" font-size="8.7" text-anchor="middle" textLength="15.77" lengthAdjust="spacingAndGlyphs">0.06</text>
<line x1="249.57" y1="755.20" x2="249.57" y2="757.80" stroke="#555555" stroke-width="0.8"/>
<text x="249.57" y="764.60" font-size="8.7" text-anchor="middle" textLength="15.77" lengthAdjust="spacingAndGlyphs">0.08</text>
<line x1="280.63" y1="755.20" x2="280.63" y2="757.80" stroke="#555555" stroke-width="0.8"/>
<text x="280.63" y="764.60" font-size="8.7" text-anchor="middle" textLength="15.77" lengthAdjust="spacingAndGlyphs">0.10</text>
<line x1="311.70" y1="755.20" x2="311.70" y2="757.80" stroke="#555555" stroke-width="0.8"/>
<text x="311.70" y="764.60" font-size="8.7" text-anchor="middle" textLength="15.77" lengthAdjust="spacingAndGlyphs">0.12</text>
<text x="218.70" y="776.30" font-size="8.9" text-anchor="middle" textLength="141.02" lengthAdjust="spacingAndGlyphs">R2 (Explaiend variance by Western)</text>
<rect x="245.80" y="616.95" width="15.20" height="4.70" fill="#d67ea2"/>
<text x="262.80" y="622.20" font-size="8.2" textLength="51.90" lengthAdjust="spacingAndGlyphs">Actinobacteriota</text>
<rect x="245.80" y="626.60" width="15.20" height="4.70" fill="#a94a8e"/>
<text x="262.80" y="631.85" font-size="8.2" textLength="47.90" lengthAdjust="spacingAndGlyphs">Proteobacteria</text>
<rect x="245.80" y="636.25" width="15.20" height="4.70" fill="#7ea85b"/>
<text x="262.80" y="641.50" font-size="8.2" textLength="44.36" lengthAdjust="spacingAndGlyphs">Bacteroidota</text>
<rect x="245.80" y="645.90" width="15.20" height="4.70" fill="#3274a1"/>
<text x="262.80" y="651.15" font-size="8.2" textLength="50.20" lengthAdjust="spacingAndGlyphs">Firmicutes_A</text>
<rect x="245.80" y="655.55" width="15.20" height="4.70" fill="#1c2c8c"/>
<text x="262.80" y="660.80" font-size="8.2" textLength="36.43" lengthAdjust="spacingAndGlyphs">Firmicutes</text>
<rect x="382.94" y="607.98" width="9.34" height="64.62" fill="#45316d"/>
<rect x="392.28" y="607.98" width="9.34" height="64.62" fill="#3d5d80"/>
<rect x="406.30" y="607.98" width="9.34" height="64.62" fill="#45316d"/>
<rect x="415.64" y="607.98" width="9.34" height="64.62" fill="#3d5d80"/>
<rect x="429.66" y="607.98" width="9.34" height="64.62" fill="#45316d"/>
<rect x="439.00" y="608.18" width="9.34" height="64.42" fill="#3d5d80"/>
<rect x="453.02" y="608.84" width="9.34" height="63.76" fill="#45316d"/>
<rect x="462.37" y="608.18" width="9.34" height="64.42" fill="#3d5d80"/>
<rect x="476.38" y="609.03" width="9.34" height="63.57" fill="#45316d"/>
<rect x="485.73" y="608.31" width="9.34" height="64.29" fill="#3d5d80"/>
<rect x="499.74" y="611.91" width="9.34" height="60.69" fill="#45316d"/>
<rect x="509.09" y="608.90" width="9.34" height="63.70" fill="#3d5d80"/>
<rect x="523.11" y="615.90" width="9.34" height="56.70" fill="#45316d"/>
<rect x="532.45" y="610.47" width="9.34" height="62.13" fill="#3d5d80"/>
<rect x="546.47" y="627.02" width="9.34" height="45.58" fill="#45316d"/>
<rect x="555.81" y="641.60" width="9.34" height="31.00" fill="#3d5d80"/>
<rect x="569.83" y="630.74" width="9.34" height="41.86" fill="#45316d"/>
<rect x="579.17" y="635.58" width="9.34" height="37.02" fill="#3d5d80"/>
<rect x="593.19" y="640.49" width="9.34" height="32.11" fill="#45316d"/>
<rect x="602.53" y="617.79" width="9.34" height="54.81" fill="#3d5d80"/>
<rect x="616.55" y="658.02" width="9.34" height="14.58" fill="#45316d"/>
<rect x="625.90" y="622.70" width="9.34" height="49.90" fill="#3d5d80"/>
<rect x="639.91" y="658.28" width="9.34" height="14.32" fill="#45316d"/>
<rect x="649.26" y="622.70" width="9.34" height="49.90" fill="#3d5d80"/>
<rect x="663.27" y="664.82" width="9.34" height="7.78" fill="#45316d"/>
<rect x="672.62" y="637.48" width="9.34" height="35.12" fill="#3d5d80"/>
<rect x="380.60" y="604.50" width="303.70" height="68.50" fill="none" stroke="#555555" stroke-width="0.8"/>
<line x1="378.40" y1="672.60" x2="380.60" y2="672.60" stroke="#555555" stroke-width="0.8"/>
<text x="377.80" y="675.20" font-size="8.6" text-anchor="end" textLength="4.23" lengthAdjust="spacingAndGlyphs">0</text>
<line x1="378.40" y1="659.52" x2="380.60" y2="659.52" stroke="#555555" stroke-width="0.8"/>
<text x="377.80" y="662.12" font-size="8.6" text-anchor="end" textLength="8.45" lengthAdjust="spacingAndGlyphs">20</text>
<line x1="378.40" y1="646.44" x2="380.60" y2="646.44" stroke="#555555" stroke-width="0.8"/>
<text x="377.80" y="649.04" font-size="8.6" text-anchor="end" textLength="8.45" lengthAdjust="spacingAndGlyphs">40</text>
<line x1="378.40" y1="633.36" x2="380.60" y2="633.36" stroke="#555555" stroke-width="0.8"/>
<text x="377.80" y="635.96" font-size="8.6" text-anchor="end" textLength="8.45" lengthAdjust="spacingAndGlyphs">60</text>
<line x1="378.40" y1="620.28" x2="380.60" y2="620.28" stroke="#555555" stroke-width="0.8"/>
<text x="377.80" y="622.88" font-size="8.6" text-anchor="end" textLength="8.45" lengthAdjust="spacingAndGlyphs">80</text>
<line x1="378.40" y1="607.20" x2="380.60" y2="607.20" stroke="#555555" stroke-width="0.8"/>
<text x="377.80" y="609.80" font-size="8.6" text-anchor="end" textLength="12.68" lengthAdjust="spacingAndGlyphs">100</text>
<line x1="392.28" y1="673.00" x2="392.28" y2="674.60" stroke="#555555" stroke-width="0.8"/>
<line x1="415.64" y1="673.00" x2="415.64" y2="674.60" stroke="#555555" stroke-width="0.8"/>
<line x1="439.00" y1="673.00" x2="439.00" y2="674.60" stroke="#555555" stroke-width="0.8"/>
<line x1="462.37" y1="673.00" x2="462.37" y2="674.60" stroke="#555555" stroke-width="0.8"/>
<line x1="485.73" y1="673.00" x2="485.73" y2="674.60" stroke="#555555" stroke-width="0.8"/>
<line x1="509.09" y1="673.00" x2="509.09" y2="674.60" stroke="#555555" stroke-width="0.8"/>
<line x1="532.45" y1="673.00" x2="532.45" y2="674.60" stroke="#555555" stroke-width="0.8"/>
<line x1="555.81" y1="673.00" x2="555.81" y2="674.60" stroke="#555555" stroke-width="0.8"/>
<line x1="579.17" y1="673.00" x2="579.17" y2="674.60" stroke="#555555" stroke-width="0.8"/>
<line x1="602.53" y1="673.00" x2="602.53" y2="674.60" stroke="#555555" stroke-width="0.8"/>
<line x1="625.90" y1="673.00" x2="625.90" y2="674.60" stroke="#555555" stroke-width="0.8"/>
<line x1="649.26" y1="673.00" x2="649.26" y2="674.60" stroke="#555555" stroke-width="0.8"/>
<line x1="672.62" y1="673.00" x2="672.62" y2="674.60" stroke="#555555" stroke-width="0.8"/>
<text x="359.20" y="641.50" font-size="8.6" text-anchor="middle" transform="rotate(-90 359.20 641.50)" textLength="62.89" lengthAdjust="spacingAndGlyphs">Prevalence (%)</text>
<text x="531.60" y="597.50" font-size="9.6" text-anchor="middle" font-style="italic">Faecalibacillus intestinalis</text>
<rect x="622.30" y="608.30" width="8.90" height="3.20" fill="#45316d"/>
<text x="634.80" y="612.30" font-size="8.0">Western</text>
<rect x="622.30" y="615.50" width="8.90" height="3.20" fill="#3d5d80"/>
<text x="634.80" y="618.90" font-size="8.0">Non-Western</text>
<rect x="380.60" y="686.50" width="303.70" height="68.60" fill="none" stroke="#555555" stroke-width="0.8"/>
<line x1="378.40" y1="749.60" x2="380.60" y2="749.60" stroke="#555555" stroke-width="0.8"/>
<text x="377.80" y="751.80" font-size="8.6" text-anchor="end" textLength="4.39" lengthAdjust="spacingAndGlyphs">0</text>
<line x1="378.40" y1="734.95" x2="380.60" y2="734.95" stroke="#555555" stroke-width="0.8"/>
<text x="377.80" y="737.15" font-size="8.6" text-anchor="end" textLength="8.79" lengthAdjust="spacingAndGlyphs">10</text>
<line x1="378.40" y1="720.30" x2="380.60" y2="720.30" stroke="#555555" stroke-width="0.8"/>
<text x="377.80" y="722.50" font-size="8.6" text-anchor="end" textLength="8.79" lengthAdjust="spacingAndGlyphs">20</text>
<line x1="378.40" y1="705.65" x2="380.60" y2="705.65" stroke="#555555" stroke-width="0.8"/>
<text x="377.80" y="707.85" font-size="8.6" text-anchor="end" textLength="8.79" lengthAdjust="spacingAndGlyphs">30</text>
<line x1="378.40" y1="691.00" x2="380.60" y2="691.00" stroke="#555555" stroke-width="0.8"/>
<text x="377.80" y="693.20" font-size="8.6" text-anchor="end" textLength="8.79" lengthAdjust="spacingAndGlyphs">40</text>
<line x1="392.28" y1="755.10" x2="392.28" y2="756.90" stroke="#555555" stroke-width="0.8"/>
<text x="394.18" y="758.30" font-size="8.3" text-anchor="end" transform="rotate(-90 394.18 758.30)">GH1</text>
<line x1="415.64" y1="755.10" x2="415.64" y2="756.90" stroke="#555555" stroke-width="0.8"/>
<text x="417.54" y="758.30" font-size="8.3" text-anchor="end" transform="rotate(-90 417.54 758.30)">GT2</text>
<line x1="439.00" y1="755.10" x2="439.00" y2="756.90" stroke="#555555" stroke-width="0.8"/>
<text x="440.90" y="758.30" font-size="8.3" text-anchor="end" transform="rotate(-90 440.90 758.30)">GH13</text>
<line x1="462.37" y1="755.10" x2="462.37" y2="756.90" stroke="#555555" stroke-width="0.8"/>
<text x="464.27" y="758.30" font-size="8.3" text-anchor="end" transform="rotate(-90 464.27 758.30)">GT4</text>
<line x1="485.73" y1="755.10" x2="485.73" y2="756.90" stroke="#555555" stroke-width="0.8"/>
<text x="487.63" y="758.30" font-size="8.3" text-anchor="end" transform="rotate(-90 487.63 758.30)">GH23</text>
<line x1="509.09" y1="755.10" x2="509.09" y2="756.90" stroke="#555555" stroke-width="0.8"/>
<text x="510.99" y="758.30" font-size="8.3" text-anchor="end" transform="rotate(-90 510.99 758.30)">GH32</text>
<line x1="532.45" y1="755.10" x2="532.45" y2="756.90" stroke="#555555" stroke-width="0.8"/>
<text x="534.35" y="758.30" font-size="8.3" text-anchor="end" transform="rotate(-90 534.35 758.30)">GH3</text>
<line x1="555.81" y1="755.10" x2="555.81" y2="756.90" stroke="#555555" stroke-width="0.8"/>
<text x="557.71" y="758.30" font-size="8.3" text-anchor="end" transform="rotate(-90 557.71 758.30)">GH4</text>
<line x1="579.17" y1="755.10" x2="579.17" y2="756.90" stroke="#555555" stroke-width="0.8"/>
<text x="581.07" y="758.30" font-size="8.3" text-anchor="end" transform="rotate(-90 581.07 758.30)">GT14</text>
<line x1="602.53" y1="755.10" x2="602.53" y2="756.90" stroke="#555555" stroke-width="0.8"/>
<text x="604.43" y="758.30" font-size="8.3" text-anchor="end" transform="rotate(-90 604.43 758.30)">GH140</text>
<line x1="625.90" y1="755.10" x2="625.90" y2="756.90" stroke="#555555" stroke-width="0.8"/>
<text x="627.80" y="758.30" font-size="8.3" text-anchor="end" transform="rotate(-90 627.80 758.30)">GH128</text>
<line x1="649.26" y1="755.10" x2="649.26" y2="756.90" stroke="#555555" stroke-width="0.8"/>
<text x="651.16" y="758.30" font-size="8.3" text-anchor="end" transform="rotate(-90 651.16 758.30)">GH55</text>
<line x1="672.62" y1="755.10" x2="672.62" y2="756.90" stroke="#555555" stroke-width="0.8"/>
<text x="674.52" y="758.30" font-size="8.3" text-anchor="end" transform="rotate(-90 674.52 758.30)">GH109</text>
<text x="359.10" y="721.10" font-size="8.9" text-anchor="middle" transform="rotate(-90 359.10 721.10)" textLength="56.01" lengthAdjust="spacingAndGlyphs">Copy number</text>
<text x="532.50" y="792.90" font-size="9.9" text-anchor="middle" textLength="71.79" lengthAdjust="spacingAndGlyphs">CAZyme families</text>
<polygon points="387.31,693.70 386.81,700.05 385.91,703.60 384.71,707.14 383.71,710.54 383.11,714.68 383.11,717.63 384.01,721.18 385.91,724.73 386.81,728.27 387.31,737.73 387.91,737.73 388.41,728.27 389.31,724.73 391.21,721.18 392.11,717.63 392.11,714.68 391.51,710.54 390.51,707.14 389.31,703.60 388.41,700.05 387.91,693.70" fill="#45316d" stroke="#1c1c1c" stroke-width="0.8" stroke-linejoin="round"/>
<line x1="387.61" y1="710.10" x2="387.61" y2="718.96" stroke="#1c1c1c" stroke-width="1.2" stroke-opacity="0.45"/>
<circle cx="387.61" cy="714.53" r="0.55" fill="#ddd"/>
<polygon points="396.65,689.86 396.15,692.96 394.75,696.65 392.75,700.05 392.05,702.86 392.15,705.81 393.05,709.51 394.15,713.20 395.35,717.63 395.95,721.18 396.25,724.73 396.65,730.34 397.25,730.34 397.65,724.73 397.95,721.18 398.55,717.63 399.75,713.20 400.85,709.51 401.75,705.81 401.85,702.86 401.15,700.05 399.15,696.65 397.75,692.96 397.25,689.86" fill="#3d5d80" stroke="#1c1c1c" stroke-width="0.8" stroke-linejoin="round"/>
<line x1="396.95" y1="702.71" x2="396.95" y2="711.58" stroke="#1c1c1c" stroke-width="1.2" stroke-opacity="0.45"/>
<circle cx="396.95" cy="707.14" r="0.55" fill="#ddd"/>
<polygon points="410.67,706.55 410.47,722.07 409.47,724.87 407.47,727.53 406.22,730.64 407.77,733.89 409.47,736.69 410.17,740.24 410.47,747.33 410.67,750.43 411.27,750.43 411.47,747.33 411.77,740.24 412.47,736.69 414.17,733.89 415.72,730.64 414.47,727.53 412.47,724.87 411.47,722.07 411.27,706.55" fill="#45316d" stroke="#1c1c1c" stroke-width="0.8" stroke-linejoin="round"/>
<line x1="410.97" y1="728.12" x2="410.97" y2="736.99" stroke="#1c1c1c" stroke-width="1.2" stroke-opacity="0.45"/>
<circle cx="410.97" cy="732.56" r="0.55" fill="#ddd"/>
<polygon points="420.01,702.27 419.81,722.66 418.81,725.46 416.81,727.53 415.41,730.04 416.81,733.15 418.81,735.95 419.61,740.24 420.01,750.14 420.61,750.14 421.01,740.24 421.81,735.95 423.81,733.15 425.21,730.04 423.81,727.53 421.81,725.46 420.81,722.66 420.61,702.27" fill="#3d5d80" stroke="#1c1c1c" stroke-width="0.8" stroke-linejoin="round"/>
<line x1="420.31" y1="725.76" x2="420.31" y2="734.62" stroke="#1c1c1c" stroke-width="1.2" stroke-opacity="0.45"/>
<circle cx="420.31" cy="730.19" r="0.55" fill="#ddd"/>
<polygon points="434.03,738.17 433.33,739.80 430.93,740.90 433.13,742.01 433.63,744.01 434.03,747.63 434.63,747.63 435.03,744.01 435.53,742.01 437.73,740.90 435.33,739.80 434.63,738.17" fill="#45316d" stroke="#1c1c1c" stroke-width="1.1" stroke-linejoin="round"/>
<polygon points="443.38,738.61 442.48,739.94 438.98,740.90 442.38,742.01 442.98,744.01 443.38,746.00 443.98,746.00 444.38,744.01 444.98,742.01 448.38,740.90 444.88,739.94 443.98,738.61" fill="#3d5d80" stroke="#1c1c1c" stroke-width="1.1" stroke-linejoin="round"/>
<polygon points="457.39,719.11 457.24,734.48 456.19,736.55 454.89,738.61 453.69,740.53 453.24,742.60 454.39,745.26 456.19,747.33 457.09,749.30 457.39,752.06 457.99,752.06 458.29,749.30 459.19,747.33 460.99,745.26 462.14,742.60 461.69,740.53 460.49,738.61 459.19,736.55 458.14,734.48 457.99,719.11" fill="#45316d" stroke="#1c1c1c" stroke-width="0.8" stroke-linejoin="round"/>
<line x1="457.69" y1="738.17" x2="457.69" y2="747.04" stroke="#1c1c1c" stroke-width="1.2" stroke-opacity="0.45"/>
<circle cx="457.69" cy="742.60" r="0.55" fill="#ddd"/>
<polygon points="466.74,710.39 466.59,733.89 465.04,736.55 463.54,738.61 463.04,741.57 463.84,744.60 465.24,746.59 466.44,748.66 466.74,752.06 467.34,752.06 467.64,748.66 468.84,746.59 470.24,744.60 471.04,741.57 470.54,738.61 469.04,736.55 467.49,733.89 467.34,710.39" fill="#3d5d80" stroke="#1c1c1c" stroke-width="0.8" stroke-linejoin="round"/>
<line x1="467.04" y1="736.69" x2="467.04" y2="745.56" stroke="#1c1c1c" stroke-width="1.2" stroke-opacity="0.45"/>
<circle cx="467.04" cy="741.13" r="0.55" fill="#ddd"/>
<polygon points="480.80,741.13 480.54,744.67 478.93,745.71 476.80,746.59 476.80,747.92 478.93,748.81 480.20,749.84 480.80,750.51 481.31,750.51 481.90,749.84 483.18,748.81 485.30,747.92 485.30,746.59 483.18,745.71 481.56,744.67 481.31,741.13" fill="#3a2d5a" stroke="#1c1c1c" stroke-width="0.85" stroke-linejoin="round"/>
<polygon points="490.14,734.92 489.97,744.23 488.70,744.97 487.85,746.44 487.85,748.22 489.12,749.10 490.14,750.51 490.65,750.51 491.67,749.10 492.95,748.22 492.95,746.44 492.10,744.97 490.82,744.23 490.65,734.92" fill="#3a5068" stroke="#1c1c1c" stroke-width="0.85" stroke-linejoin="round"/>
<circle cx="481.05" cy="746.59" r="0.5" fill="#ccc"/>
<circle cx="490.40" cy="746.44" r="0.5" fill="#ccc"/>
<polygon points="504.16,746.00 503.91,747.63 500.25,748.00 500.25,748.51 503.91,748.81 504.16,750.14 504.67,750.14 504.93,748.81 508.58,748.51 508.58,748.00 504.93,747.63 504.67,746.00" fill="#3a2d5a" stroke="#1c1c1c" stroke-width="0.85" stroke-linejoin="round"/>
<polygon points="513.51,746.00 513.25,747.63 510.19,748.00 510.19,748.51 513.25,748.81 513.51,750.14 514.02,750.14 514.27,748.81 517.33,748.51 517.33,748.00 514.27,747.63 514.02,746.00" fill="#3a5068" stroke="#1c1c1c" stroke-width="0.85" stroke-linejoin="round"/>
<circle cx="504.42" cy="748.00" r="0.5" fill="#ccc"/>
<circle cx="513.76" cy="748.00" r="0.5" fill="#ccc"/>
<polygon points="527.52,743.05 526.50,745.41 525.65,747.41 523.61,748.07 526.08,748.81 527.35,750.51 528.20,750.51 529.48,748.81 531.94,748.07 529.90,747.41 529.05,745.41 528.03,743.05" fill="#3a2d5a" stroke="#1c1c1c" stroke-width="0.85" stroke-linejoin="round"/>
<polygon points="536.87,742.75 535.85,744.52 534.40,746.44 535.85,748.29 536.87,750.51 537.38,750.51 538.40,748.29 539.84,746.44 538.40,744.52 537.38,742.75" fill="#3a5068" stroke="#1c1c1c" stroke-width="0.85" stroke-linejoin="round"/>
<circle cx="527.78" cy="748.07" r="0.5" fill="#ccc"/>
<circle cx="537.12" cy="746.44" r="0.5" fill="#ccc"/>
<polygon points="550.88,746.15 549.86,747.33 546.97,748.07 549.01,748.81 550.88,750.51 551.39,750.51 553.26,748.81 555.30,748.07 552.41,747.33 551.39,746.15" fill="#3a2d5a" stroke="#1c1c1c" stroke-width="0.85" stroke-linejoin="round"/>
<polygon points="560.23,744.38 559.38,746.44 558.36,748.51 558.19,749.50 560.23,750.51 560.74,750.51 562.78,749.50 562.61,748.51 561.59,746.44 560.74,744.38" fill="#3a5068" stroke="#1c1c1c" stroke-width="0.85" stroke-linejoin="round"/>
<circle cx="551.14" cy="748.07" r="0.5" fill="#ccc"/>
<circle cx="560.48" cy="749.50" r="0.5" fill="#ccc"/>
<polygon points="574.25,744.08 572.97,745.41 572.29,746.44 572.29,749.50 573.23,750.29 575.78,750.29 576.71,749.50 576.71,746.44 576.03,745.41 574.76,744.08" fill="#3a2d5a" stroke="#1c1c1c" stroke-width="0.85" stroke-linejoin="round"/>
<polygon points="583.59,746.15 582.32,747.18 579.68,748.07 580.45,749.30 582.15,750.21 585.55,750.21 587.25,749.30 588.01,748.07 585.38,747.18 584.10,746.15" fill="#3a5068" stroke="#1c1c1c" stroke-width="0.85" stroke-linejoin="round"/>
<circle cx="574.50" cy="746.44" r="0.5" fill="#ccc"/>
<circle cx="583.85" cy="748.07" r="0.5" fill="#ccc"/>
<polygon points="597.61,744.08 596.33,746.44 594.63,748.51 593.70,749.50 595.74,750.29 599.99,750.29 602.03,749.50 601.09,748.51 599.39,746.44 598.12,744.08" fill="#3a2d5a" stroke="#1c1c1c" stroke-width="0.85" stroke-linejoin="round"/>
<polygon points="606.95,744.08 605.34,745.26 604.40,747.48 605.08,749.30 606.78,750.51 607.63,750.51 609.33,749.30 610.01,747.48 609.08,745.26 607.46,744.08" fill="#3a5068" stroke="#1c1c1c" stroke-width="0.85" stroke-linejoin="round"/>
<circle cx="597.86" cy="749.50" r="0.5" fill="#ccc"/>
<circle cx="607.21" cy="747.48" r="0.5" fill="#ccc"/>
<polygon points="620.97,747.77 619.95,748.66 617.23,749.25 617.23,749.70 619.95,749.99 620.97,750.51 621.48,750.51 622.50,749.99 625.22,749.70 625.22,749.25 622.50,748.66 621.48,747.77" fill="#3a2d5a" stroke="#1c1c1c" stroke-width="0.85" stroke-linejoin="round"/>
<polygon points="630.31,746.44 629.80,747.63 626.74,748.14 626.74,748.51 629.55,749.00 630.31,749.99 630.82,749.99 631.59,749.00 634.39,748.51 634.39,748.14 631.33,747.63 630.82,746.44" fill="#3a5068" stroke="#1c1c1c" stroke-width="0.85" stroke-linejoin="round"/>
<circle cx="621.22" cy="749.25" r="0.5" fill="#ccc"/>
<circle cx="630.57" cy="748.14" r="0.5" fill="#ccc"/>
<polygon points="644.33,747.77 643.31,748.66 640.59,749.25 640.59,749.70 643.31,749.99 644.33,750.51 644.84,750.51 645.86,749.99 648.58,749.70 648.58,749.25 645.86,748.66 644.84,747.77" fill="#3a2d5a" stroke="#1c1c1c" stroke-width="0.85" stroke-linejoin="round"/>
<polygon points="653.67,746.15 653.16,747.63 650.10,748.14 650.10,748.51 652.91,749.00 653.67,749.99 654.18,749.99 654.95,749.00 657.75,748.51 657.75,748.14 654.69,747.63 654.18,746.15" fill="#3a5068" stroke="#1c1c1c" stroke-width="0.85" stroke-linejoin="round"/>
<circle cx="644.59" cy="749.25" r="0.5" fill="#ccc"/>
<circle cx="653.93" cy="748.14" r="0.5" fill="#ccc"/>
<polygon points="667.69,746.15 667.52,748.51 663.78,749.18 663.78,749.62 667.52,749.99 667.69,750.51 668.20,750.51 668.37,749.99 672.11,749.62 672.11,749.18 668.37,748.51 668.20,746.15" fill="#3a2d5a" stroke="#1c1c1c" stroke-width="0.85" stroke-linejoin="round"/>
<polygon points="676.87,744.82 675.76,745.56 675.25,747.18 675.42,748.96 676.44,750.43 678.14,750.43 679.16,748.96 679.33,747.18 678.82,745.56 677.72,744.82" fill="#3a5068" stroke="#1c1c1c" stroke-width="0.85" stroke-linejoin="round"/>
<circle cx="667.95" cy="749.18" r="0.5" fill="#ccc"/>
<circle cx="677.29" cy="747.18" r="0.5" fill="#ccc"/>
</svg></body></html>
